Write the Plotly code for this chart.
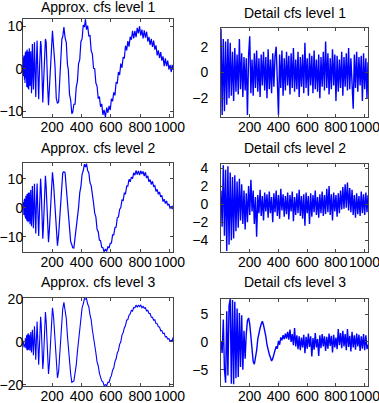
import plotly.graph_objects as go

# sample index positions for the approximation traces
x_approx = [1, 3, 5, 7, 9, 11, 13, 15, 17, 19, 21, 23, 25, 27, 29, 31, 33, 35, 37,
            40, 42, 44, 46, 49, 51, 54, 56, 59, 62, 65, 68, 72, 75, 79, 83, 88, 92, 97, 102,
            108, 114, 121, 125, 128, 132, 136, 140, 145, 150, 154, 159, 164, 170, 175, 181,
            188, 195, 202, 210, 219, 228,
            236, 244, 252, 258, 266, 272, 280, 288, 296, 304, 310, 318, 326, 334, 340, 348,
            356, 364, 372, 380, 388, 396, 404, 412, 420, 427, 434, 442, 450, 458, 466, 474,
            482, 490, 498, 506, 514, 522, 530, 538, 546, 554, 563, 572, 580, 588, 596, 604,
            612, 620, 628, 636, 644, 652, 660, 668, 676, 684, 692, 700, 708, 716, 724, 732,
            740, 748, 756, 764, 772, 780, 788, 796, 804, 812, 820, 828, 836, 844, 852, 860,
            868, 876, 884, 892, 900, 908, 916, 924, 932, 940, 948, 956, 964, 972, 980, 988,
            996, 1004, 1012, 1018, 1024]

approx1 = [0.3, -1.8, 2.4, -2.0, 3.1, -2.6, 1.8, -3.4, 3.8, -2.2, 4.1, -3.6, 2.9, -4.3, 4.5, -3.0, 3.7, -4.6, 4.0,
           -4.9, 0.6, 4.8, -0.7, -4.1, 0.9, 4.1, -0.4, -5.8, 0.5, 5.8, -0.8, -4.9, 0.6, 6.2, -0.7, -6.7, 0.9, 6.6, -0.5,
           -7.2, 0.6, 6.5, 5.4, -0.5, -4.4, -8.0, -4.3, -0.6, 6.1, 7.0, 6.2, -0.7, -5.0, -8.6, -4.8, -0.6, 6.6, 8.9, 5.0,
           0.8, -7.0,
           -8.2, -7.8, -1.7, 0.8, 7.0, 7.5, 9.8, 7.3, 6.2, 1.0,
           -0.2, -6.0, -7.4, -10.6, -10.3, -8.4, -8.4, -4.4, -3.0, 1.2,
           2.1, 6.4, 7.0, 10.3, 9.8, 11.6, 9.2, 10.1, 7.7, 7.8,
           4.2, 3.5, 0.1, 0.0, -3.4, -4.1, -7.1, -6.6, -9.0, -8.3,
           -10.9, -9.7, -11.4, -9.2, -10.4, -8.8, -9.8, -7.1, -7.7, -5.6,
           -6.3, -3.2, -3.4, -0.8, -1.5, 1.2, 0.2, 2.7, 2.4, 5.4,
           4.3, 6.5, 5.2, 7.5, 6.8, 8.9, 7.1, 8.9, 7.4, 9.6,
           8.3, 10.0, 7.8, 9.2, 7.1, 9.0, 7.3, 8.7, 6.4, 7.5,
           5.6, 7.0, 5.1, 6.6, 4.5, 5.5, 3.1, 4.3, 2.5, 3.9,
           1.9, 2.9, 0.6, 2.4, 0.6, 1.9, -0.2, 0.9, -0.8, 0.9,
           -0.3]

approx2 = [0.8, -1.2, 1.9, -2.4, 2.6, -1.8, 3.2, -3.0, 2.4, -3.7, 4.2, -2.9, 3.6, -4.4, 4.8, -3.5, 4.1, -4.9, 5.2,
           -4.6, 0.5, 5.3, -0.4, -5.6, 0.3, 6.2, -0.6, -6.3, 0.4, 7.6, -0.5, -7.0, 0.7, 8.3, -0.4, -8.8, 0.5, 8.4, -0.6,
           -9.7, 0.4, 10.1, 6.4, -0.3, -7.6, -10.6, -6.8, 0.5, 7.9, 11.1, 7.1, -0.4, -8.3, -11.8, -7.5, 0.3, 8.8, 12.3, 7.9,
           0.4, -9.2,
           -13.0, -9.2, -4.0, 2.7, 7.8, 12.1, 12.5, 12.2, 7.0, 2.6,
           -2.9, -6.6, -11.6, -12.7, -13.7, -13.8, -10.3, -8.1, -2.7, 0.2,
           5.2, 7.4, 11.6, 12.9, 15.1, 14.1, 15.3, 12.9, 12.1, 8.7,
           7.7, 3.6, 1.8, -1.8, -3.1, -7.3, -8.2, -11.1, -11.3, -13.6,
           -13.7, -15.1, -14.2, -15.0, -13.3, -13.9, -12.2, -12.1, -9.3, -9.3,
           -6.8, -6.6, -3.4, -3.1, -0.5, 0.1, 2.7, 2.6, 5.1, 4.9,
           7.5, 7.5, 9.9, 9.0, 10.6, 10.1, 12.1, 11.3, 12.9, 11.5,
           12.8, 11.3, 12.8, 11.7, 12.6, 11.0, 12.3, 10.3, 11.1, 9.0,
           9.8, 8.1, 9.2, 7.4, 7.7, 5.7, 6.4, 4.7, 5.5, 3.8,
           4.3, 2.2, 3.0, 1.5, 2.4, 0.9, 1.4, -0.2, 0.6, -0.4,
           0.8]

approx3 = [0.5, -0.5, -1.5, -2.2, -2.6, -1.2, 0.4, -1.8, 1.6, -2.4, 2.3, -2.8, 3.0, -3.4, 2.6, -3.9, 3.5, -3.2, 4.0,
           -3.8, -0.5, 3.2, 0.8, -4.1, -1.0, 4.5, 0.6, -5.0, -0.4, 5.6, 0.3, -6.2, -0.5, 7.2, 0.4, -8.3, -0.3, 9.4, 0.5,
           -10.6, -0.4, 11.6, 8.2, 0.4, -8.8, -12.6, -9.0, -0.3, 9.8, 13.8, 9.5, 0.2, -10.6, -14.9, -10.2, 0.5, 11.2, 15.8, 11.0,
           0.3, -11.9,
           -16.8, -13.8, -4.5, 2.3, 12.0, 15.3, 18.3, 15.4, 10.9, 2.8,
           -2.3, -10.4, -14.9, -18.8, -18.5, -18.2, -14.5, -10.8, -4.6, 0.2,
           6.5, 10.7, 15.7, 17.6, 20.0, 19.8, 20.0, 17.5, 16.2, 12.5,
           10.2, 5.6, 2.5, -2.2, -5.1, -9.3, -11.1, -14.5, -16.0, -18.2,
           -18.6, -20.3, -19.9, -20.4, -18.8, -18.8, -16.8, -15.7, -13.2, -12.2,
           -9.2, -7.9, -5.2, -4.0, -1.2, 0.0, 3.1, 4.2, 6.4, 7.5,
           10.0, 10.3, 12.3, 12.9, 14.6, 14.2, 15.9, 15.7, 17.0, 16.1,
           16.9, 16.3, 17.1, 15.8, 16.4, 15.5, 15.8, 14.3, 14.6, 13.1,
           13.1, 11.4, 11.4, 10.0, 10.2, 8.5, 8.4, 7.0, 6.9, 5.1,
           5.2, 3.8, 4.0, 2.3, 2.4, 1.3, 1.5, 0.0, 0.8, -0.1,
           2.0]

# sample index positions for the detail traces
x_detail = list(range(1, 1018, 8)) + [1024]

detail1 = [3.4, -3.3, 2.6, -3.0, 2.4, -2.5, 2.6, -2.0, 2.3, -1.8,
           1.6, -2.2, 1.9, -1.5, 1.4, -1.7, 2.6, -1.3, 1.5, -1.9,
           1.2, -1.4, 1.1, -3.3, 1.3, 2.8, -1.6, 1.0, -1.8, 1.5,
           -1.2, 1.7, -1.5, 1.1, -1.9, 1.4, -1.0, 1.6, -1.4, 1.2,
           -2.0, 1.8, -1.3, 1.0, -1.6, 1.5, -1.1, 1.3, 2.0, -1.5,
           -3.3, 1.4, -1.2, 1.7, -1.8, 1.1, -1.4, 1.6, -1.0, 1.3,
           -1.7, 1.5, -1.2, 1.9, -1.5, 1.0, -1.3, 1.6, -1.9, 1.2,
           -1.1, 1.4, -1.6, 2.3, -1.2, 1.1, -1.8, 1.5, -1.0, 1.3,
           -1.6, 1.7, -1.3, 1.0, -1.5, 1.4, -2.0, 1.2, -1.1, 1.6,
           -1.4, 2.4, -1.2, 1.5, -1.7, 1.1, -1.3, 1.8, -1.0, 1.4,
           -2.2, 1.3, -1.5, 1.0, -1.2, 1.6, -1.8, 1.2, -1.1, 1.5,
           -1.4, 1.9, -1.3, 1.1, -1.6, -2.8, 1.4, -1.2, 1.6, -1.5,
           1.2, -1.0, 1.3, -2.2, 1.5, -1.3, 1.1, -2.0, 0.8]

detail2 = [1.5, -2.5, 4.3, -3.5, 3.8, -5.2, 4.2, -4.5, 3.5, -4.0,
           3.0, -3.8, 3.2, -3.0, 2.5, -2.6, 2.8, -1.8, 2.2, -2.2,
           1.5, -2.8, 1.2, -2.0, 2.0, -1.2, 2.7, -0.8, 1.5, -2.2,
           0.8, -3.6, 1.0, -1.0, 1.6, -1.3, 0.9, -1.8, 1.3, -0.8,
           1.1, -1.5, 1.4, -1.0, 0.8, -2.0, 1.2, -0.9, 1.5, -1.3,
           1.0, -1.6, 1.7, -0.7, 1.1, -1.4, 0.9, -1.1, 1.3, -1.7,
           1.0, -0.8, 1.4, -1.9, 0.8, -1.2, 1.2, -1.0, 1.6, -1.3,
           0.9, -1.6, 1.1, -2.4, 1.3, -1.0, 0.9, -2.2, 1.2, -1.4,
           1.0, -0.9, 1.5, -1.2, 0.8, -1.5, 1.1, -1.0, 1.4, -1.3,
           1.0, -1.1, 1.7, -0.9, 2.0, -1.2, 1.1, -1.8, 1.3, -0.8,
           1.0, -1.4, 1.2, -1.0, 1.5, -0.6, 1.9, -0.5, 2.2, -0.4,
           2.4, -0.7, 1.8, -0.9, 1.6, -1.2, 1.0, -1.5, 1.2, -1.1,
           0.9, -1.3, 1.4, -1.0, 1.1, -1.2, 1.3, -0.9, 1.0]

detail3 = [0.0, -2.0, 4.0, -5.0, -7.3, 5.5, -6.0, 6.5, 7.7, -7.5,
           7.5, -7.6, 7.2, -6.5, 6.0, -6.3, 5.2, -4.5, 4.8, -5.0,
           2.0, -3.0, 1.5, 3.8, 4.3, 3.2, 1.0, -1.8, -3.5, -4.0,
           -3.0, -1.5, 0.5, 1.8, 2.5, 3.2, 3.7, 3.0, 2.2, 1.0,
           -0.5, -1.5, -2.2, -2.8, -3.4, -3.0, -2.0, -1.5, -0.8, -1.2,
           0.2, -0.5, 0.8, 0.3, 1.2, 0.5, 1.5, 0.6, 1.8, 0.4,
           2.2, 0.0, 1.4, -0.6, 2.5, -0.8, 1.2, -1.3, 1.0, -1.5,
           0.8, -1.0, 1.3, -2.0, 0.9, -1.2, 1.5, -0.9, 1.0, -2.6,
           0.7, -1.4, 1.6, -1.0, 0.5, -2.5, 1.2, -1.1, 1.4, -0.8,
           1.0, -1.6, 0.9, -1.2, 1.5, -0.7, 1.1, -1.9, 1.3, -1.0,
           0.8, -1.3, 2.3, -0.6, 1.6, -1.1, 2.0, -0.8, 1.4, -1.5,
           2.3, -0.9, 1.1, -1.7, 1.8, -1.0, 1.2, -1.4, 1.5, -0.8,
           1.3, -1.6, 1.0, -1.2, 1.4, -1.5, 1.2, -1.3, -0.5]

titles = ["Approx. cfs level 1", "Detail cfs level 1",
          "Approx. cfs level 2", "Detail cfs level 2",
          "Approx. cfs level 3", "Detail cfs level 3"]

W, H = 379, 403
FONT = "Liberation Sans, Arial, Helvetica, sans-serif"
BLUE = "rgb(0,0,255)"

# (x, y, title, left/right/top/bottom box in pixels, y range, y ticks, line width, title centre y)
panels = [
    (x_approx, approx1, titles[0], (23, 173, 19, 117), [-11.4, 11.7], [-10, 0, 10], 1.2, 7),
    (x_detail, detail1, titles[1], (221, 368, 28, 117), [-3.45, 3.45], [-2, 0, 2], 1.4, 13),
    (x_approx, approx2, titles[2], (23, 173, 163, 252), [-15.2, 15.5], [-10, 0, 10], 1.2, 148),
    (x_detail, detail2, titles[3], (221, 368, 164, 252), [-5.3, 4.45], [-4, -2, 0, 2, 4], 1.4, 148),
    (x_approx, approx3, titles[4], (23, 173, 298, 386), [-20.5, 20.3], [-20, 0, 20], 1.1, 282),
    (x_detail, detail3, titles[5], (221, 368, 299, 386), [-7.9, 7.7], [-5, 0, 5], 1.4, 282),
]

fig = go.Figure()
layout = dict(
    template="none",
    width=W, height=H,
    margin=dict(l=0, r=0, t=0, b=0, pad=0, autoexpand=False),
    paper_bgcolor="white", plot_bgcolor="white",
    showlegend=False,
    font=dict(family=FONT, size=14, color="black"),
    annotations=[],
)

for i, (xs, ys, title, box, yr, yt, lw, ty) in enumerate(panels):
    n = "" if i == 0 else str(i + 1)
    l, r, t, b = box
    fig.add_trace(go.Scatter(x=xs, y=ys, mode="lines",
                             line=dict(color=BLUE, width=lw),
                             xaxis="x" + n, yaxis="y" + n,
                             hoverinfo="skip"))
    common = dict(showgrid=False, zeroline=False, showline=True, mirror="ticks",
                  automargin=False, ticklabeloverflow="allow", tickangle=0,
                  linecolor="rgb(70,70,70)", linewidth=1,
                  ticks="inside", ticklen=3, tickcolor="rgb(70,70,70)",
                  tickfont=dict(family=FONT, size=14, color="black"))
    layout["xaxis" + n] = dict(domain=[l / W, r / W], range=[1, 1024],
                               tickvals=[200, 400, 600, 800, 1000],
                               ticklabelstandoff=-3,
                               anchor="y" + n, **common)
    layout["yaxis" + n] = dict(domain=[1 - b / H, 1 - t / H], range=yr,
                               tickvals=yt, anchor="x" + n,
                               ticklabelstandoff=(-4 if l < 100 else 9),
                               **common)
    layout["annotations"].append(dict(
        text=title, xref="paper", yref="paper",
        x=(l + r) / 2 / W, y=1 - ty / H,
        xanchor="center", yanchor="middle", showarrow=False,
        font=dict(family=FONT, size=14, color="black")))

fig.update_layout(**layout)
fig.write_html("out.html",
               config={"displayModeBar": False, "staticPlot": True},
               post_script="document.body.style.margin='0';document.body.style.padding='0';")
